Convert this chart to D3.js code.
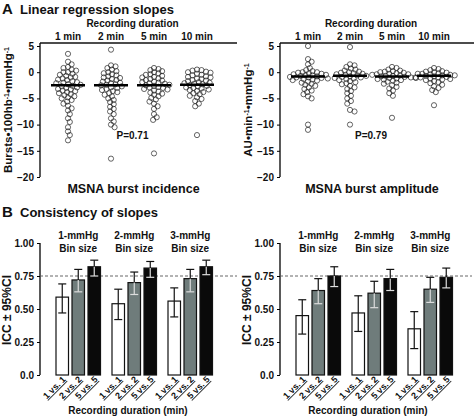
<!DOCTYPE html>
<html><head><meta charset="utf-8">
<script src="https://cdn.jsdelivr.net/npm/d3@7"></script>
<style>body{margin:0;background:#fff}text{font-family:"Liberation Sans",Arial,sans-serif;fill:#111}</style>
</head><body><svg id="c" width="474" height="419"></svg>
<script>
var durations = ["1 min", "2 min", "5 min", "10 min"];
// burst incidence slopes (bursts/100hb/mmHg)
var inc1 = [3.5,2,1.5,1,0.8,0.5,0.3,0,0,-0.3,-0.5,-0.7,-0.9,-1,-1.2,-1.4,-1.5,-1.7,-1.9,-2,-2.1,-2.3,-2.4,-2.6,-2.7,-2.9,-3,-3.2,-3.3,-3.5,-3.6,-3.8,-4,-4.2,-4.4,-4.6,-4.8,-5,-5.3,-5.6,-6,-6.4,-6.9,-7.3,-8,-8.8,-9.5,-10.5,-11.3,-12,-13];
var inc2 = [4.3,1.3,1.1,0.8,0.5,0.2,0,-0.2,-0.4,-0.6,-0.8,-1,-1.1,-1.3,-1.5,-1.6,-1.8,-2,-2.1,-2.3,-2.4,-2.5,-2.7,-2.9,-3,-3.2,-3.4,-3.6,-3.8,-4,-4.3,-4.6,-5,-5.3,-5.7,-6.1,-6.6,-7,-7.5,-8,-8.8,-9.4,-10,-10.5,-16.5];
var inc5 = [0.8,0.6,0.4,0.2,0,-0.2,-0.4,-0.5,-0.7,-0.9,-1,-1.2,-1.3,-1.5,-1.6,-1.8,-1.9,-2,-2.1,-2.2,-2.4,-2.5,-2.6,-2.8,-2.9,-3,-3.2,-3.3,-3.5,-3.7,-3.9,-4.1,-4.3,-4.6,-4.9,-5.2,-5.6,-6,-6.5,-7,-8,-8.6,-9.1,-15.5];
var inc10 = [0.5,0.4,0.3,0.1,0,-0.1,-0.3,-0.5,-0.6,-0.8,-0.9,-1,-1.2,-1.3,-1.5,-1.6,-1.7,-1.9,-2,-2.1,-2.2,-2.3,-2.5,-2.6,-2.7,-2.9,-3,-3.1,-3.3,-3.4,-3.6,-3.8,-4,-4.2,-4.5,-4.8,-5.1,-5.5,-6,-6.5,-12];
// burst amplitude slopes (AU/min/mmHg)
var amp1 = [5,2.5,2,1.5,0.8,0.4,0.2,0,0,-0.1,-0.2,-0.3,-0.4,-0.5,-0.6,-0.6,-0.7,-0.8,-0.9,-1,-1,-1.1,-1.2,-1.3,-1.4,-1.5,-1.6,-1.8,-2,-2.2,-2.4,-2.6,-2.9,-3.2,-3.5,-3.8,-4.2,-4.6,-5,-10,-11];
var amp2 = [4.8,1.5,1.3,1,0.7,0.5,0.3,0.1,0,-0.1,-0.2,-0.3,-0.4,-0.5,-0.6,-0.7,-0.8,-0.9,-1,-1.1,-1.2,-1.3,-1.5,-1.7,-1.9,-2.1,-2.3,-2.6,-2.9,-3.2,-3.6,-4,-4.5,-5,-5.5,-6,-7.2,-7.5,-10];
var amp5 = [1,0.8,0.5,0.3,0.2,0.1,0,-0.1,-0.2,-0.3,-0.4,-0.4,-0.5,-0.6,-0.7,-0.7,-0.8,-0.9,-1,-1,-1.1,-1.2,-1.3,-1.4,-1.5,-1.6,-1.8,-2,-2.2,-2.5,-2.8,-3.1,-3.5,-4,-4.5,-8.7];
var amp10 = [0.8,0.6,0.4,0.2,0.1,0,-0.1,-0.2,-0.3,-0.3,-0.4,-0.5,-0.6,-0.6,-0.7,-0.8,-0.9,-1,-1,-1.1,-1.2,-1.3,-1.4,-1.5,-1.7,-1.9,-2.1,-2.4,-2.7,-3,-3.4,-3.8,-6.3];
var incMedians = [-2.5, -2.5, -2.5, -2.4];
var ampMedians = [-0.8, -0.7, -0.8, -0.7];
var binLabels = ["1-mmHg", "2-mmHg", "3-mmHg"];
var pairLabels = ["1 vs. 1", "2 vs. 2", "5 vs. 5"];
// ICC, lower CI, upper CI per bin (3 pairs each)
var iccInc = [0.59,0.72,0.82, 0.54,0.70,0.81, 0.56,0.73,0.82];
var iccIncLo = [0.47,0.63,0.75, 0.42,0.61,0.74, 0.44,0.63,0.76];
var iccIncHi = [0.69,0.80,0.87, 0.65,0.78,0.86, 0.66,0.80,0.87];
var iccAmp = [0.45,0.64,0.75, 0.47,0.62,0.73, 0.35,0.65,0.74];
var iccAmpLo = [0.31,0.54,0.67, 0.33,0.51,0.64, 0.20,0.55,0.66];
var iccAmpHi = [0.57,0.73,0.82, 0.60,0.71,0.80, 0.48,0.74,0.81];

var svg = d3.select("#c");
var fills = ["#fff", "#6f7c7b", "#0a0a0a"];

function swarm(vals, y, r) {
  var placed = [];
  vals.slice().sort(function(a, b){ return b - a; }).forEach(function(v){
    var py = y(v), best = null;
    for (var k = 0; k < 60 && best === null; k++) {
      var cands = k === 0 ? [0] : [k * 0.9, -k * 0.9];
      for (var c = 0; c < cands.length; c++) {
        var ok = placed.every(function(p){ return (p[0]-cands[c])*(p[0]-cands[c]) + (p[1]-py)*(p[1]-py) >= 4*r*r*0.6; });
        if (ok) { best = cands[c]; break; }
      }
    }
    placed.push([best, py]);
  });
  return placed;
}

function scatter(x0, x1, groups, medians, ylab, title, pval) {
  var y = d3.scaleLinear().domain([-20, 5]).range([177, 46]);
  var x = d3.scalePoint().domain(durations).range([x0 + 28, x1 - 40]);
  var g = svg.append("g");
  g.append("g").attr("transform", "translate(" + x0 + ",0)")
    .call(d3.axisLeft(y).tickValues([5,0,-5,-10,-15,-20]).tickSize(3))
    .call(function(a){ a.select(".domain").attr("stroke-width", 1.3).attr("d", "M0,43V177"); a.selectAll("text").attr("font-size", 10).attr("font-weight", "bold"); });
  g.append("line").attr("x1", x0).attr("x2", x1).attr("y1", 43).attr("y2", 43).attr("stroke", "#111").attr("stroke-width", 1.3);
  g.selectAll(".dl").data(durations).enter().append("text").attr("x", function(d){ return x(d); }).attr("y", 40)
    .attr("text-anchor", "middle").attr("font-size", 10).attr("font-weight", "bold").text(function(d){ return d; });
  g.append("text").attr("x", (x(durations[0]) + x(durations[3])) / 2).attr("y", 27).attr("text-anchor", "middle")
    .attr("font-size", 10).attr("font-weight", "bold").text("Recording duration");
  groups.forEach(function(vals, i){
    var cx = x(durations[i]);
    g.selectAll(null).data(swarm(vals, y, 2.6)).enter().append("circle")
      .attr("cx", function(p){ return cx + p[0]; }).attr("cy", function(p){ return p[1]; }).attr("r", 2.6)
      .attr("fill", "none").attr("stroke", "#222").attr("stroke-width", 0.7);
    g.append("line").attr("x1", cx - 17).attr("x2", cx + 17).attr("y1", y(medians[i])).attr("y2", y(medians[i]))
      .attr("stroke", "#000").attr("stroke-width", 2.5);
  });
  g.append("text").attr("x", (x(durations[1]) + x(durations[2])) / 2).attr("y", y(-12) + 4).attr("text-anchor", "middle")
    .attr("font-size", 10).attr("font-weight", "bold").text(pval);
  var yl = g.append("text").attr("transform", "translate(" + (x0 - 28) + ",110) rotate(-90)").attr("text-anchor", "middle")
    .attr("font-size", 11.5).attr("font-weight", "bold");
  ylab.forEach(function(p){ yl.append("tspan").attr("baseline-shift", p[1] ? "super" : null).attr("font-size", p[1] ? 7 : null).text(p[0]); });
  g.append("text").attr("x", (x0 + x1) / 2 - 5).attr("y", 193).attr("text-anchor", "middle")
    .attr("font-size", 12.5).attr("font-weight", "bold").text(title);
}

scatter(40, 237, [inc1, inc2, inc5, inc10], incMedians,
  [["Bursts\u2022100hb", 0], ["-1", 1], ["\u2022mmHg", 0], ["-1", 1]], "MSNA burst incidence", "P=0.71");
scatter(280, 474, [amp1, amp2, amp5, amp10], ampMedians,
  [["AU\u2022min", 0], ["-1", 1], ["\u2022mmHg", 0], ["-1", 1]], "MSNA burst amplitude", "P=0.79");

function bars(x0, vals, lo, hi, dashEnd) {
  var y = d3.scaleLinear().domain([0, 1]).range([375, 243]);
  var keys = d3.range(9);
  function bx(i) { return x0 + 16 + Math.floor(i / 3) * 56 + (i % 3) * 16; }
  var bw = 12.5;
  var g = svg.append("g");
  g.append("g").attr("transform", "translate(" + x0 + ",0)")
    .call(d3.axisLeft(y).tickValues([0, 0.25, 0.5, 0.75, 1]).tickFormat(function(d){ return d === 0 ? "0.0" : d3.format(".2f")(d); }).tickSize(3))
    .call(function(a){ a.select(".domain").attr("stroke-width", 1.3).attr("d", "M0,243V375"); a.selectAll("text").attr("font-size", 10).attr("font-weight", "bold"); });
  g.append("line").attr("x1", x0).attr("x2", dashEnd).attr("y1", y(0.75)).attr("y2", y(0.75))
    .attr("stroke", "#555").attr("stroke-dasharray", "3,2").attr("stroke-width", 0.9);
  keys.forEach(function(i){
    var cx = bx(i) + bw / 2;
    g.append("rect").attr("x", bx(i)).attr("y", y(vals[i])).attr("width", bw).attr("height", y(0) - y(vals[i]))
      .attr("fill", fills[i % 3]).attr("stroke", "#111").attr("stroke-width", 1.2);
    var ec = i % 3 === 0 ? "#111" : "#ddd";
    g.append("line").attr("x1", cx).attr("x2", cx).attr("y1", y(hi[i])).attr("y2", y(vals[i])).attr("stroke", "#111").attr("stroke-width", 1.2);
    g.append("line").attr("x1", cx - 4).attr("x2", cx + 4).attr("y1", y(hi[i])).attr("y2", y(hi[i])).attr("stroke", "#111").attr("stroke-width", 1.2);
    g.append("line").attr("x1", cx).attr("x2", cx).attr("y1", y(vals[i])).attr("y2", y(lo[i])).attr("stroke", ec).attr("stroke-width", 1.2);
    g.append("line").attr("x1", cx - 4).attr("x2", cx + 4).attr("y1", y(lo[i])).attr("y2", y(lo[i])).attr("stroke", ec).attr("stroke-width", 1.2);
    g.append("text").attr("transform", "translate(" + (cx + 4) + ",380) rotate(-45)").attr("text-anchor", "end")
      .attr("font-size", 9).attr("font-weight", "bold").attr("text-decoration", "underline").text(pairLabels[i % 3]);
  });
  binLabels.forEach(function(b, j){
    var cx = bx(j * 3 + 1) + bw / 2;
    g.append("text").attr("x", cx).attr("y", 239).attr("text-anchor", "middle").attr("font-size", 10).attr("font-weight", "bold").text(b);
    g.append("text").attr("x", cx).attr("y", 252).attr("text-anchor", "middle").attr("font-size", 10).attr("font-weight", "bold").text("Bin size");
  });
  g.append("text").attr("transform", "translate(" + (x0 - 29) + ",310) rotate(-90)").attr("text-anchor", "middle")
    .attr("font-size", 12).attr("font-weight", "bold").text("ICC \u00b1 95%CI");
  g.append("text").attr("x", x0 + 88).attr("y", 414).attr("text-anchor", "middle").attr("font-size", 10).attr("font-weight", "bold")
    .text("Recording duration (min)");
}
bars(40, iccInc, iccIncLo, iccIncHi, 237);
bars(280, iccAmp, iccAmpLo, iccAmpHi, 472);

svg.append("text").attr("x", 2).attr("y", 14).attr("font-size", 15).attr("font-weight", "bold").text("A");
svg.append("text").attr("x", 20).attr("y", 14).attr("font-size", 13).attr("font-weight", "bold").text("Linear regression slopes");
svg.append("text").attr("x", 2).attr("y", 217).attr("font-size", 15).attr("font-weight", "bold").text("B");
svg.append("text").attr("x", 20).attr("y", 217).attr("font-size", 13).attr("font-weight", "bold").text("Consistency of slopes");
</script></body></html>
